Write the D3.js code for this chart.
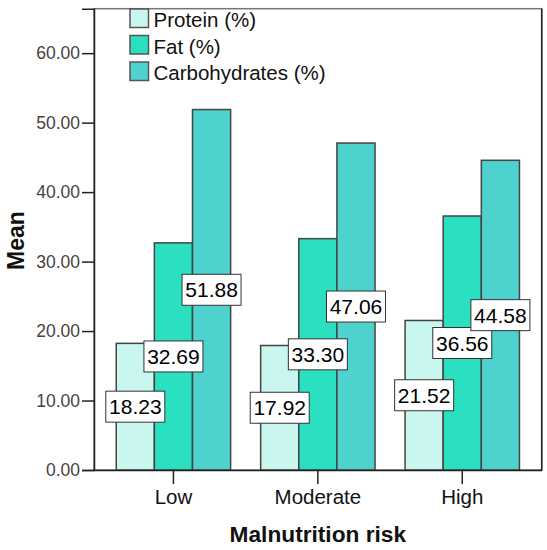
<!DOCTYPE html>
<html>
<head>
<meta charset="utf-8">
<script src="https://cdn.jsdelivr.net/npm/d3@7"></script>
<style>
  body { margin: 0; background: #fff; }
  text { font-family: "Liberation Sans", Arial, sans-serif; }
</style>
</head>
<body>
<svg id="chart" width="547" height="550"></svg>
<script>
const categories = ["Low", "Moderate", "High"];
const seriesNames = ["Protein (%)", "Fat (%)", "Carbohydrates (%)"];
const protein = [18.23, 17.92, 21.52];
const fat = [32.69, 33.3, 36.56];
const carbs = [51.88, 47.06, 44.58];
const yTicks = [0, 10, 20, 30, 40, 50, 60];
const colors = ["#c9f6ef", "#2ae0c1", "#4dd2cd"];

const series = [protein, fat, carbs];

const frame = { left: 94, right: 541.7, top: 8.7, bottom: 470 };

const svg = d3.select("#chart");

const x = d3
  .scaleBand()
  .domain(categories)
  .range([frame.left, frame.right])
  .paddingInner(0.208)
  .paddingOuter(0.154);

const xSub = d3
  .scaleBand()
  .domain(seriesNames)
  .range([0, x.bandwidth()]);

const y = d3
  .scaleLinear()
  .domain([0, 66.4])
  .range([frame.bottom, frame.top]);

// frame around plot
svg
  .append("rect")
  .attr("x", frame.left)
  .attr("y", frame.top)
  .attr("width", frame.right - frame.left)
  .attr("height", frame.bottom - frame.top)
  .attr("fill", "none")
  .style("stroke", "#777")
  .style("stroke-width", "1.5px");
svg
  .append("line")
  .attr("x1", frame.right)
  .attr("x2", frame.right)
  .attr("y1", frame.top)
  .attr("y2", frame.bottom)
  .style("stroke", "#222")
  .style("stroke-width", "1.5px");

// bars
const groups = svg
  .selectAll("g.group")
  .data(categories)
  .enter()
  .append("g")
  .attr("class", "group")
  .attr("transform", (d) => "translate(" + x(d) + ",0)");

groups
  .selectAll("rect")
  .data((d, i) =>
    seriesNames.map((s, j) => ({ name: s, value: series[j][i], k: j }))
  )
  .enter()
  .append("rect")
  .attr("x", (d) => xSub(d.name))
  .attr("y", (d) => y(d.value))
  .attr("width", xSub.bandwidth())
  .attr("height", (d) => y(0) - y(d.value))
  .attr("fill", (d) => colors[d.k])
  .style("stroke", "#444")
  .style("stroke-width", "1.5px");

// value labels, boxed, at mid height of each bar
const labels = groups
  .selectAll("g.lbl")
  .data((d, i) =>
    seriesNames.map((s, j) => ({ name: s, value: series[j][i] }))
  )
  .enter()
  .append("g")
  .attr("class", "lbl")
  .attr("transform", (d) =>
    "translate(" +
      (xSub(d.name) + xSub.bandwidth() / 2) +
      "," +
      (y(0) + y(d.value)) / 2 +
      ")"
  );

labels
  .append("rect")
  .attr("x", -29.5)
  .attr("y", -15.5)
  .attr("width", 59)
  .attr("height", 31)
  .attr("fill", "#fff")
  .style("stroke", "#333")
  .style("stroke-width", "1px");

labels
  .append("text")
  .attr("text-anchor", "middle")
  .attr("y", 7.5)
  .style("font-size", "21px")
  .style("fill", "#000")
  .text((d) => d.value.toFixed(2));

// y axis
const yAxis = svg
  .append("g")
  .attr("transform", "translate(" + frame.left + ",0)")
  .call(
    d3.axisLeft(y)
      .tickValues(yTicks)
      .tickSize(12)
      .tickPadding(2)
      .tickFormat(d3.format(".2f"))
  );
yAxis.select(".domain").style("stroke", "#222").style("stroke-width", "1.5px");
yAxis.selectAll(".tick line").style("stroke", "#222").style("stroke-width", "1.5px");
yAxis
  .selectAll(".tick text")
  .style("font-size", "17.5px")
  .style("font-family", "'Liberation Sans', Arial, sans-serif")
  .style("fill", "#444");

// x axis
const xAxis = svg
  .append("g")
  .attr("transform", "translate(0," + frame.bottom + ")")
  .call(d3.axisBottom(x).tickSize(14).tickPadding(5).tickSizeOuter(0));
xAxis.select(".domain").style("stroke", "#222").style("stroke-width", "1.5px");
xAxis.selectAll(".tick line").style("stroke", "#222").style("stroke-width", "1.5px");
xAxis
  .selectAll(".tick text")
  .style("font-size", "20.5px")
  .style("font-family", "'Liberation Sans', Arial, sans-serif")
  .style("fill", "#111");

// axis titles
svg
  .append("text")
  .attr("x", (frame.left + frame.right) / 2)
  .attr("y", 541.5)
  .attr("text-anchor", "middle")
  .style("font-size", "22.7px")
  .style("font-weight", "bold")
  .style("fill", "#111")
  .text("Malnutrition risk");

svg
  .append("text")
  .attr("transform", "translate(23.5,240.5) rotate(-90)")
  .attr("text-anchor", "middle")
  .style("font-size", "23px")
  .style("font-weight", "bold")
  .style("fill", "#111")
  .text("Mean");

// legend
const legend = svg
  .selectAll("g.legend")
  .data(seriesNames)
  .enter()
  .append("g")
  .attr("class", "legend")
  .attr("transform", (d, i) => "translate(130," + (27 + i * 26.5) + ")");

legend
  .append("rect")
  .attr("x", 0)
  .attr("y", -18)
  .attr("width", 18.5)
  .attr("height", 18.5)
  .attr("fill", (d, i) => colors[i])
  .style("stroke", "#555")
  .style("stroke-width", "1.5px");

legend
  .append("text")
  .attr("x", 23.5)
  .attr("y", 0)
  .style("font-size", "20.5px")
  .style("fill", "#111")
  .text((d) => d);
</script>
</body>
</html>
